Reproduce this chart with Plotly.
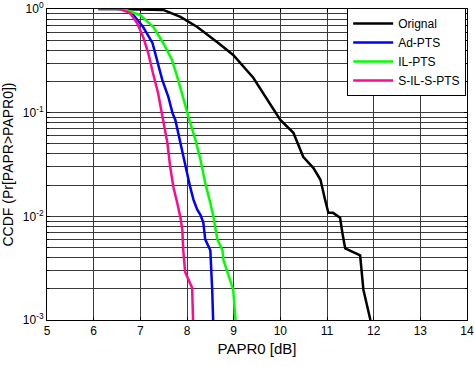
import plotly.graph_objects as go

# Data
orig_x = [6.5, 6.85, 7.49, 7.86, 8.22, 8.67, 8.99, 9.42, 9.72, 10.0, 10.28, 10.49, 10.71, 10.86, 10.96, 11.03, 11.13, 11.28, 11.33, 11.39, 11.71, 11.78, 11.93]
orig_y = [1.0, 0.995, 0.98, 0.84, 0.67, 0.47, 0.36, 0.217, 0.133, 0.085, 0.064, 0.0375, 0.0292, 0.0225, 0.0144, 0.0108, 0.0108, 0.0097, 0.0069, 0.0049, 0.0042, 0.00196, 0.001]

adpts_x = [6.1, 6.63, 6.85, 7.06, 7.26, 7.36, 7.47, 7.60, 7.69, 7.75, 7.86, 7.96, 8.07, 8.14, 8.22, 8.29, 8.35, 8.39, 8.50, 8.54, 8.56]
adpts_y = [1.0, 1.0, 0.875, 0.67, 0.47, 0.322, 0.207, 0.142, 0.099, 0.085, 0.051, 0.030, 0.019, 0.0144, 0.0116, 0.0103, 0.0087, 0.0060, 0.0047, 0.00196, 0.001]

ilpts_x = [6.1, 6.63, 7.00, 7.28, 7.49, 7.68, 7.81, 7.92, 8.01, 8.03, 8.18, 8.29, 8.39, 8.50, 8.57, 8.65, 8.76, 8.78, 8.99, 9.04]
ilpts_y = [1.0, 1.0, 0.875, 0.67, 0.47, 0.322, 0.207, 0.142, 0.099, 0.091, 0.055, 0.035, 0.021, 0.0135, 0.0097, 0.0060, 0.0047, 0.0038, 0.00196, 0.001]

silspts_x = [6.1, 6.57, 6.78, 6.93, 7.06, 7.17, 7.27, 7.38, 7.45, 7.49, 7.58, 7.64, 7.71, 7.79, 7.86, 7.90, 7.92, 7.96, 8.11, 8.13]
silspts_y = [1.0, 1.0, 0.915, 0.733, 0.537, 0.376, 0.241, 0.155, 0.105, 0.085, 0.051, 0.030, 0.019, 0.0135, 0.0097, 0.0074, 0.0047, 0.0029, 0.00204, 0.001]

series = [
    ("Orignal", orig_x, orig_y, "#000000"),
    ("Ad-PTS", adpts_x, adpts_y, "#0000ff"),
    ("IL-PTS", ilpts_x, ilpts_y, "#00ff00"),
    ("S-IL-S-PTS", silspts_x, silspts_y, "#ff0a8c"),
]

x_ticks = list(range(5, 15))
y_major = [0.001, 0.01, 0.1, 1.0]
y_major_text = ["10<sup>-3</sup>", "10<sup>-2</sup>", "10<sup>-1</sup>", "10<sup>0</sup>"]
y_minor = [m * d for d in [0.001, 0.01, 0.1] for m in range(2, 10)]

fig = go.Figure()
for name, xs, ys, col in series:
    fig.add_trace(go.Scatter(x=xs, y=ys, mode="lines", name=name,
                             line=dict(color=col, width=2.5)))

font = dict(family="Liberation Sans, Arial, sans-serif", color="#000000")
grid = "#3a3a3a"
fig.update_layout(
    width=474, height=367,
    margin=dict(l=47, r=7, t=9, b=47),
    paper_bgcolor="white", plot_bgcolor="white",
    font=dict(size=12, **font),
    showlegend=True,
    legend=dict(x=0.998, y=1.003, xanchor="right", yanchor="top",
                bgcolor="white", bordercolor="black", borderwidth=1,
                font=dict(size=12, **font), tracegroupgap=0,
                itemwidth=40),
    xaxis=dict(range=[5, 14], tickvals=x_ticks, ticktext=[str(v) for v in x_ticks],
               showgrid=True, gridcolor=grid, gridwidth=1,
               showline=True, linecolor="black", linewidth=1, mirror="ticks",
               ticks="inside", ticklen=3, tickcolor="black",
               zeroline=False, automargin=False, tickfont=dict(size=12, **font),
               title=dict(text="PAPR0 [dB]", font=dict(size=15, **font), standoff=6)),
    yaxis=dict(type="log", range=[-3, 0], tickvals=y_major, ticktext=y_major_text,
               showgrid=True, gridcolor=grid, gridwidth=1,
               showline=True, linecolor="black", linewidth=1, mirror="ticks",
               ticks="inside", ticklen=3, tickcolor="black",
               minor=dict(tickvals=y_minor, showgrid=True, gridcolor=grid, gridwidth=1,
                          ticks="inside", ticklen=2, tickcolor="black"),
               zeroline=False, automargin=False, tickfont=dict(size=12, **font),
               title=dict(text="CCDF (Pr[PAPR>PAPR0])", font=dict(size=14, **font), standoff=8)),
)

fig.write_html("out.html", config={"displayModeBar": False},
               post_script="document.body.style.margin='0px';document.body.style.padding='0px';")
